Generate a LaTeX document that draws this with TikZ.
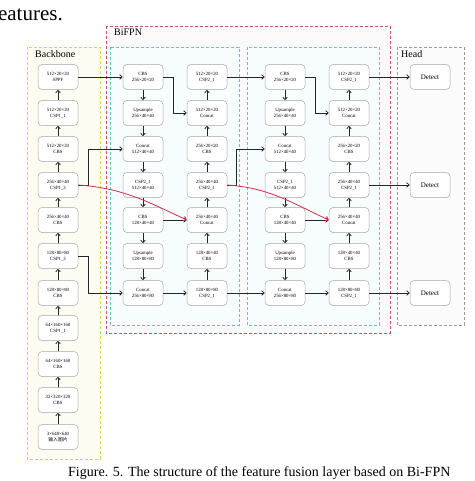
\documentclass[tikz,border=0pt]{standalone}
\usepackage{fontspec}
\setmainfont{Liberation Serif}
\newfontfamily\cjk{Noto Sans CJK SC}
\usetikzlibrary{arrows.meta}
\definecolor{redline}{HTML}{D0304A}
\definecolor{ybox}{HTML}{E6CF45}
\definecolor{pbox}{HTML}{C8506A}
\definecolor{cbox}{HTML}{62C3CF}
\definecolor{gbox}{HTML}{9A9A9A}
\tikzset{
  blk/.style={draw=gray!70, line width=0.5pt, rounded corners=4pt, fill=white,
    minimum width=40pt, minimum height=25pt, inner sep=0pt, align=center,
    font=\fontsize{4.8}{6.5}\selectfont},
  det/.style={blk, font=\fontsize{7}{8}\selectfont},
  conn/.style={draw=black!85, line width=0.75pt, -{Straight Barb[length=2.5pt,width=4.5pt]}},
  redconn/.style={draw=redline, line width=0.8pt, -{Straight Barb[length=2.8pt,width=5pt]}},
  region/.style={line width=0.7pt, dash pattern=on 3pt off 2pt},
  rlabel/.style={anchor=north west, inner sep=0pt, font=\fontsize{10}{11}\selectfont}
}
\newcommand{\bifpnblock}[3]{%
  \node[blk] (#2-1) at (#1,77)  {CBS\\256×20×20};
  \node[blk] (#2-2) at (#1,113) {Upsample\\256×40×40};
  \node[blk] (#2-3) at (#1,149) {Concat\\512×40×40};
  \node[blk] (#2-4) at (#1,185) {CSP2\_1\\512×40×40};
  \node[blk] (#2-5) at (#1,220) {CBS\\128×40×40};
  \node[blk] (#2-6) at (#1,256) {Upsample\\128×80×80};
  \node[blk] (#2-7) at (#1,293) {Concat\\256×80×80};
  \node[blk] (#3-1) at (#1+64,77)  {512×20×20\\CSP2\_1};
  \node[blk] (#3-2) at (#1+64,113) {512×20×20\\Concat};
  \node[blk] (#3-3) at (#1+64,149) {256×20×20\\CBS};
  \node[blk] (#3-4) at (#1+64,185) {256×40×40\\CSP2\_1};
  \node[blk] (#3-5) at (#1+64,220) {256×40×40\\Concat};
  \node[blk] (#3-6) at (#1+64,256) {128×40×40\\CBS};
  \node[blk] (#3-7) at (#1+64,293) {128×80×80\\CSP2\_1};
  \draw[conn] (#2-1) -- (#2-2);
  \draw[conn] (#2-2) -- (#2-3);
  \draw[conn] (#2-3) -- (#2-4);
  \draw[conn] (#2-4) -- (#2-5);
  \draw[conn] (#2-5) -- (#2-6);
  \draw[conn] (#2-6) -- (#2-7);
  \draw[conn] (#3-7) -- (#3-6);
  \draw[conn] (#3-6) -- (#3-5);
  \draw[conn] (#3-5) -- (#3-4);
  \draw[conn] (#3-4) -- (#3-3);
  \draw[conn] (#3-3) -- (#3-2);
  \draw[conn] (#3-2) -- (#3-1);
  \draw[conn] (#2-1.east) -- ++(10,0) |- (#3-2.west);
  \draw[conn] (#2-5) -- (#3-5);
  \draw[conn] (#2-7) -- (#3-7);
}
\begin{document}
\begin{tikzpicture}[x=1pt,y=-1pt]
\useasboundingbox (0,0) rectangle (474,481);
\clip (0,0) rectangle (474,481);
\fill[white] (0,0) rectangle (474,481);

% text fragments of the surrounding page
\node[anchor=base east, inner sep=0pt, font=\fontsize{21}{22}\selectfont] (ptext) at (63,21) {features.};
\node[anchor=base west, inner sep=0pt, font=\fontsize{14}{15}\selectfont] (caption) at (68,476)
  {Figure. 5. The structure of the feature fusion layer based on Bi-FPN};

% regions
\draw[region, draw=ybox, fill=ybox!7] (27,47) rectangle (100,459);
\draw[region, draw=pbox, fill=pbox!3] (106,26) rectangle (390,333);
\draw[region, draw=cbox, fill=cbox!5] (110,47) rectangle (239,325);
\draw[region, draw=cbox, fill=cbox!5] (247,47) rectangle (379,325);
\draw[region, draw=gbox, fill=gray!3] (397,47) rectangle (464,325);
\node[rlabel] (lbb) at (35,50) {Backbone};
\node[rlabel] (lbi) at (114,29) {BiFPN};
\node[rlabel] (lhd) at (401,50) {Head};

% backbone
\node[blk] (b1)  at (58,77)  {512×20×20\\SPPF};
\node[blk] (b2)  at (58,113) {512×20×20\\CSP1\_1};
\node[blk] (b3)  at (58,149) {512×20×20\\CBS};
\node[blk] (b4)  at (58,185) {256×40×40\\CSP1\_3};
\node[blk] (b5)  at (58,220) {256×40×40\\CBS};
\node[blk] (b6)  at (58,256) {128×80×80\\CSP1\_3};
\node[blk] (b7)  at (58,293) {128×80×80\\CBS};
\node[blk] (b8)  at (58,328) {64×160×160\\CSP1\_1};
\node[blk] (b9)  at (58,364) {64×160×160\\CBS};
\node[blk] (b10) at (58,400) {32×320×320\\CBS};
\node[blk] (b11) at (58,437) {3×640×640\\{\cjk 输入图片}};
\foreach \i/\j in {11/10,10/9,9/8,8/7,7/6,6/5,5/4,4/3,3/2,2/1}
  \draw[conn] (b\i) -- (b\j);

% BiFPN blocks
\bifpnblock{143}{a}{c}
\bifpnblock{285}{d}{e}

% head
\node[det] (h1) at (430,77)  {Detect};
\node[det] (h2) at (430,185) {Detect};
\node[det] (h3) at (430,293) {Detect};

% connections between stages
\draw[conn] (b1) -- (a-1);
\draw[conn] (b4.east) -- ++(10,0) |- (a-3.west);
\draw[conn] (b6.east) -- ++(10,0) |- (a-7.west);
\draw[conn] (c-1) -- (d-1);
\draw[conn] (c-4.east) -- ++(9,0) |- (d-3.west);
\draw[conn] (c-7) -- (d-7);
\draw[conn] (e-1) -- (h1);
\draw[conn] (e-4) -- (h2);
\draw[conn] (e-7) -- (h3);
\draw[redconn] (b4.east) to[out=-4,in=155] (c-5.west);
\draw[redconn] (c-4.east) to[out=-4,in=155] (e-5.west);
\end{tikzpicture}
\end{document}
